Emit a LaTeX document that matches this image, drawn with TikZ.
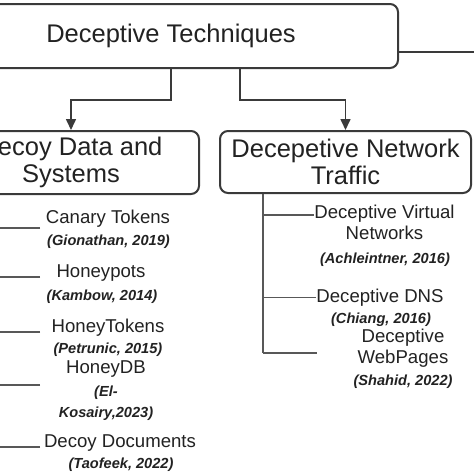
\documentclass[tikz,border=0pt]{standalone}
\usepackage{fontspec}
\setmainfont{Liberation Sans}
\usepackage{xcolor}
\usetikzlibrary{arrows.meta,calc}
\definecolor{ink}{HTML}{222222}
\definecolor{wire}{HTML}{3A3A3A}
\tikzset{
    box/.style={draw=wire, line width=2pt, rounded corners=8pt, inner sep=0pt, align=center, text=ink, font=\fontsize{25.5}{27.5}\selectfont},
    item/.style={anchor=base, inner sep=0pt, align=center, text=ink, font=\fontsize{18.6}{21}\selectfont},
    cite/.style={anchor=base, inner sep=0pt, align=center, text=ink, font=\fontsize{14.6}{21}\selectfont\bfseries\itshape},
    link/.style={draw=wire, line width=1.6pt},
    twig/.style={draw=wire!85, line width=1.3pt},
    tri/.tip={Triangle[length=11pt,width=10pt]}}

\begin{document}
\begin{tikzpicture}[x=1pt,y=-1pt]
\fill[white] (0,0) rectangle (474,474);
\useasboundingbox (0,0) rectangle (474,474);

\node[box, minimum width=454pt, minimum height=64pt] (tech) at (171,36) {Deceptive Techniques};
\node[box, minimum width=256pt, minimum height=63pt] (decoy) at (71,162.5) {Decoy Data and\\Systems};
\node[box, minimum width=251pt, minimum height=62pt] (traffic) at (345.5,162) {Decepetive Network\\Traffic};

\coordinate (edge) at (480,52);
\draw[link] ([yshift=-16pt]tech.east) -- (edge);
\draw[link, -tri] (tech.south) -- ++(0,31) -| (decoy.north);
\draw[link, -tri] ([xshift=69pt]tech.south) -- ++(0,31) -| (traffic.north);

\node[item] (canary) at (108,223) {Canary Tokens};
\node[cite] (canaryref) at (108.5,245) {(Gionathan, 2019)};
\node[item] (honeypot) at (101,277) {Honeypots};
\node[cite] (honeypotref) at (102,300) {(Kambow, 2014)};
\node[item] (honeytok) at (108,332) {HoneyTokens};
\node[cite] (honeytokref) at (108,353) {(Petrunic, 2015)};
\node[item] (honeydb) at (106,373) {HoneyDB};
\node[cite] (honeydbref) at (106,417) {(El-\\Kosairy,2023)};
\node[item] (decoydoc) at (120,447) {Decoy Documents};
\node[cite] (decoydocref) at (121,468) {(Taofeek, 2022)};

\coordinate (canarystub) at (40,228);
\coordinate (honeypotstub) at (40,277);
\coordinate (honeytokstub) at (40,332);
\coordinate (honeydbstub) at (40,385);
\coordinate (decoydocstub) at (40,447);
\draw[twig] (canarystub) -- ++(-45,0);
\draw[twig] (honeypotstub) -- ++(-45,0);
\draw[twig] (honeytokstub) -- ++(-45,0);
\draw[twig] (honeydbstub) -- ++(-45,0);
\draw[twig] (decoydocstub) -- ++(-45,0);

\node[item] (vnet) at (384.5,239) {Deceptive Virtual\\Networks};
\node[cite] (vnetref) at (385,263) {(Achleintner, 2016)};
\node[item] (dns) at (380,302) {Deceptive DNS};
\node[cite] (dnsref) at (381,323) {(Chiang, 2016)};
\node[item] (webpg) at (403,363) {Deceptive\\WebPages};
\node[cite] (webpgref) at (403,385) {(Shahid, 2022)};

\coordinate (trunk) at (263,353);
\draw[twig] (traffic.south -| trunk) -- (trunk);
\draw[twig] (trunk |- 0,215) -- ([yshift=24pt]vnet.base west);
\draw[twig] (trunk |- dns.west) -- (dns.west);
\draw[twig] (trunk) -- ++(54,0);
\end{tikzpicture}
\end{document}
